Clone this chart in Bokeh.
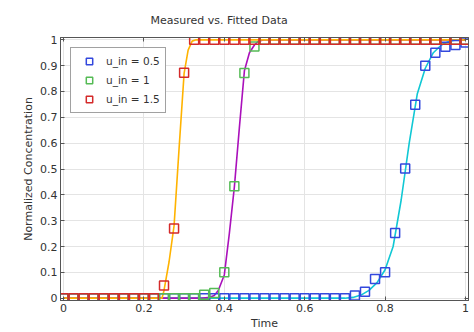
from bokeh.plotting import figure
from bokeh.models import Legend, LegendItem, LinearAxis, Range1d, FixedTicker, CustomJSTickFormatter
from bokeh.embed import file_html
from bokeh.resources import INLINE

# measured data
time = [0.0, 0.025, 0.05, 0.075, 0.1, 0.125, 0.15, 0.175, 0.2, 0.225,
        0.25, 0.275, 0.3, 0.325, 0.35, 0.375, 0.4, 0.425, 0.45, 0.475,
        0.5, 0.525, 0.55, 0.575, 0.6, 0.625, 0.65, 0.675, 0.7, 0.725,
        0.75, 0.775, 0.8, 0.825, 0.85, 0.875, 0.9, 0.925, 0.95, 0.975, 1.0]
meas_05 = [0, 0, 0, 0, 0, 0, 0, 0, 0, 0,
           0, 0, 0, 0, 0, 0, 0, 0, 0, 0,
           0, 0, 0, 0, 0, 0, 0, 0, 0, 0.01,
           0.025, 0.074, 0.1, 0.252, 0.502, 0.749, 0.9, 0.95, 0.973, 0.98, 0.99]
meas_1 = [0, 0, 0, 0, 0, 0, 0, 0, 0, 0,
          0, 0, 0, 0, 0.013, 0.02, 0.1, 0.433, 0.872, 0.974,
          1, 1, 1, 1, 1, 1, 1, 1, 1, 1,
          1, 1, 1, 1, 1, 1, 1, 1, 1, 1, 1]
meas_15 = [0, 0, 0, 0, 0, 0, 0, 0, 0, 0,
           0.049, 0.27, 0.873, 1, 1, 1, 1, 1, 1, 1,
           1, 1, 1, 1, 1, 1, 1, 1, 1, 1,
           1, 1, 1, 1, 1, 1, 1, 1, 1, 1, 1]

# fitted curves
fit_t_05 = [0.0, 0.7, 0.72, 0.74, 0.76, 0.78, 0.8, 0.82, 0.84, 0.86, 0.88,
            0.9, 0.92, 0.94, 0.96, 0.98, 1.0]
fit_y_05 = [0.0, 0.0, 0.003, 0.012, 0.03, 0.06, 0.11, 0.2, 0.38, 0.6, 0.79,
            0.89, 0.95, 0.98, 0.995, 1.0, 1.0]
fit_t_1 = [0.0, 0.34, 0.36, 0.375, 0.385, 0.4, 0.4125, 0.425, 0.4375, 0.45,
           0.4625, 0.475, 0.485, 0.5, 1.0]
fit_y_1 = [0.0, 0.0, 0.002, 0.01, 0.03, 0.09, 0.25, 0.43, 0.66, 0.88,
           0.95, 0.98, 0.995, 1.0, 1.0]
fit_t_15 = [0.0, 0.245, 0.25, 0.2625, 0.275, 0.2875, 0.3, 0.31, 0.32, 0.33, 1.0]
fit_y_15 = [0.0, 0.0, 0.03, 0.14, 0.28, 0.58, 0.87, 0.96, 0.995, 1.0, 1.0]

labels = ["u_in = 0.5", "u_in = 1", "u_in = 1.5"]
x_ticks = [0, 0.2, 0.4, 0.6, 0.8, 1]
y_ticks = [0, 0.1, 0.2, 0.3, 0.4, 0.5, 0.6, 0.7, 0.8, 0.9, 1]

FONT = "DejaVu Sans"
TXT = "#333333"
AX = "#555555"

p = figure(width=474, height=332, output_backend="svg", toolbar_location=None,
           x_range=Range1d(-0.0075, 1.0075), y_range=Range1d(-0.009, 1.009),
           min_border_left=60, min_border_right=6, min_border_top=37, min_border_bottom=30,
           title="Measured vs. Fitted Data")
p.title.align = "left"
p.title.offset = 90
p.title.text_font = FONT
p.title.text_font_size = "11px"
p.title.text_font_style = "normal"
p.title.text_color = TXT
p.title.standoff = 22
p.outline_line_color = AX

# fitted lines
p.line(fit_t_05, fit_y_05, line_color="#10c8d4", line_width=1.6)
p.line(fit_t_1, fit_y_1, line_color="#aa10bb", line_width=1.6)
p.line(fit_t_15, fit_y_15, line_color="#ffb300", line_width=1.6)

r1 = p.scatter(time, meas_05, marker="square", size=9, fill_color=None,
               line_color="#3348dd", line_width=1.5)
r2 = p.scatter(time, meas_1, marker="square", size=9, fill_color=None,
               line_color="#55bb55", line_width=1.5)
r3 = p.scatter(time, meas_15, marker="square", size=9, fill_color=None,
               line_color="#d42a2a", line_width=1.5)

for ax in (p.xaxis[0], p.yaxis[0]):
    ax.major_tick_in = 4
    ax.major_tick_out = 0
    ax.minor_tick_line_color = None
    ax.axis_line_color = AX
    ax.major_tick_line_color = AX
    ax.major_label_text_font = FONT
    ax.major_label_text_font_size = "11px"
    ax.major_label_text_color = TXT
    ax.axis_label_text_font = FONT
    ax.axis_label_text_font_size = "11px"
    ax.axis_label_text_font_style = "normal"
    ax.axis_label_text_color = TXT
    ax.major_label_standoff = 3
    ax.axis_label_standoff = 2

p.xaxis[0].ticker = FixedTicker(ticks=x_ticks)
p.yaxis[0].ticker = FixedTicker(ticks=y_ticks)
p.xaxis[0].major_label_overrides = {0: "0", 1: "1"}
p.yaxis[0].major_label_overrides = {0: "0", 1: "1"}
p.xaxis[0].axis_label = "Time"
p.yaxis[0].axis_label = "Normalized Concentration"

for loc, ticks in (("right", y_ticks), ("above", x_ticks)):
    a = LinearAxis(ticker=FixedTicker(ticks=ticks),
                   formatter=CustomJSTickFormatter(code="return ''"))
    a.major_tick_in = 4
    a.major_tick_out = 0
    a.minor_tick_line_color = None
    a.axis_line_color = AX
    a.major_tick_line_color = AX
    a.major_label_standoff = 0
    p.add_layout(a, loc)

p.xgrid.ticker = FixedTicker(ticks=x_ticks)
p.ygrid.ticker = FixedTicker(ticks=y_ticks)
p.grid.grid_line_color = "#e4e4e4"

legend = Legend(items=[LegendItem(label=labels[0], renderers=[r1]),
                       LegendItem(label=labels[1], renderers=[r2]),
                       LegendItem(label=labels[2], renderers=[r3])],
                location="top_left")
legend.margin = 10
legend.padding = 5
legend.spacing = 3
legend.glyph_width = 26
legend.glyph_height = 16
legend.label_height = 16
legend.label_standoff = 4
legend.label_text_font = FONT
legend.label_text_font_size = "10.5px"
legend.label_text_color = TXT
legend.border_line_color = "#444444"
legend.border_line_width = 1.5
legend.background_fill_color = "white"
legend.background_fill_alpha = 1
p.add_layout(legend, "center")

open("out.html", "w").write(file_html(p, INLINE))
